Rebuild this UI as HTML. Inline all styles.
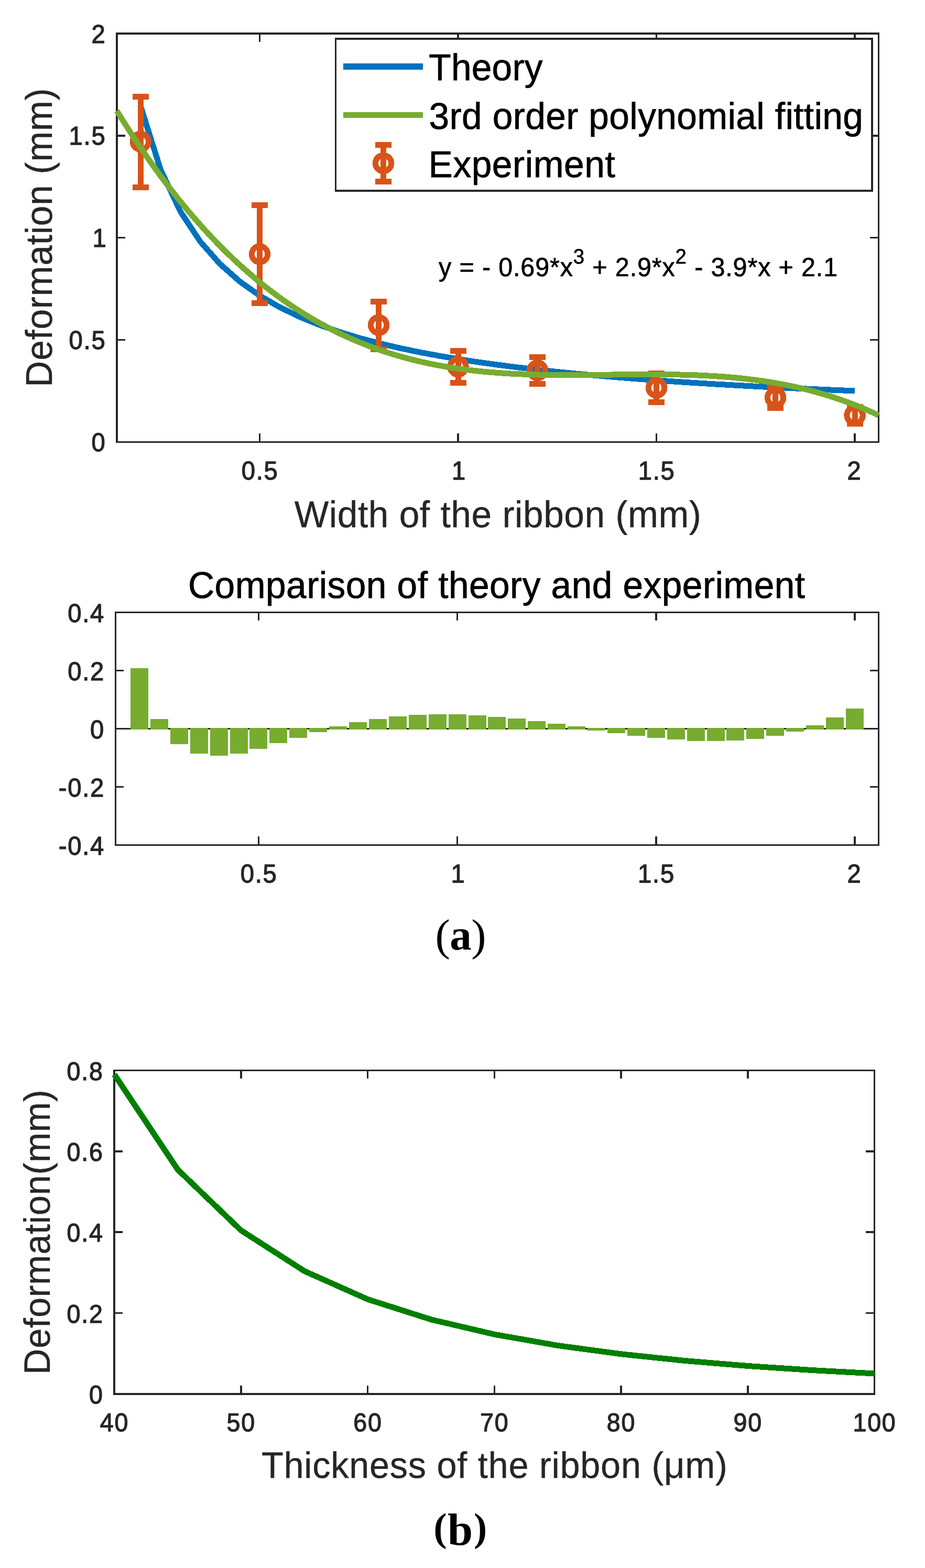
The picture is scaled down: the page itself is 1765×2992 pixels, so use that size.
<!DOCTYPE html>
<html lang="en"><head><meta charset="utf-8"><title>Deformation of the ribbon: theory and experiment</title>
<style>
html,body{margin:0;padding:0;background:#fff;}
body{width:1765px;height:2992px;overflow:hidden;position:relative;}
svg{position:absolute;left:0;top:0;display:block;}
text{white-space:pre;}
</style></head>
<body>
<svg width="1765" height="2992" viewBox="0 0 1765 2992" text-rendering="geometricPrecision">
<rect x="0" y="0" width="1765" height="2992" fill="#ffffff"/>
<rect x="494" y="827" width="3" height="15" fill="#262626"/>
<rect x="494" y="66" width="3" height="14" fill="#262626"/>
<rect x="872" y="827" width="4" height="15" fill="#262626"/>
<rect x="872" y="66" width="4" height="14" fill="#262626"/>
<rect x="1251" y="827" width="3" height="15" fill="#262626"/>
<rect x="1251" y="66" width="3" height="14" fill="#262626"/>
<rect x="1629" y="827" width="4" height="15" fill="#262626"/>
<rect x="1629" y="66" width="4" height="14" fill="#262626"/>
<rect x="225" y="647" width="14" height="3" fill="#262626"/>
<rect x="1660" y="647" width="15" height="3" fill="#262626"/>
<rect x="225" y="452" width="14" height="3" fill="#262626"/>
<rect x="1660" y="452" width="15" height="3" fill="#262626"/>
<rect x="225" y="257" width="14" height="4" fill="#262626"/>
<rect x="1660" y="257" width="15" height="4" fill="#262626"/>
<rect x="221" y="62" width="4" height="783" fill="#262626"/>
<rect x="1675" y="62" width="3" height="783" fill="#262626"/>
<rect x="221" y="62" width="1457" height="4" fill="#262626"/>
<rect x="221" y="842" width="1457" height="3" fill="#262626"/>
<polyline points="268.42,202.95 306.27,323.23 344.12,403.45 381.98,460.79 419.83,503.81 457.68,537.30 495.53,564.10 533.38,586.05 571.23,604.36 609.09,619.86 646.94,633.15 684.79,644.68 722.64,654.78 760.49,663.70 798.34,671.63 836.20,678.73 874.05,685.12 911.90,690.91 949.75,696.18 987.60,700.98 1025.45,705.39 1063.30,709.45 1101.16,713.20 1139.01,716.67 1176.86,719.89 1214.71,722.89 1252.56,725.69 1290.41,728.31 1328.27,730.76 1366.12,733.06 1403.97,735.22 1441.82,737.26 1479.67,739.18 1517.52,741.00 1555.38,742.72 1593.23,744.34 1631.08,745.89" fill="none" stroke="#0072BD" stroke-width="11" stroke-linejoin="round" stroke-linecap="butt" shape-rendering="crispEdges"/>
<line x1="268.42" y1="184.04" x2="268.42" y2="357.87" stroke="#D95319" stroke-width="11" stroke-linecap="butt" shape-rendering="crispEdges"/>
<line x1="252.92" y1="184.04" x2="283.92" y2="184.04" stroke="#D95319" stroke-width="11" stroke-linecap="butt" shape-rendering="crispEdges"/>
<line x1="252.92" y1="357.87" x2="283.92" y2="357.87" stroke="#D95319" stroke-width="11" stroke-linecap="butt" shape-rendering="crispEdges"/>
<circle cx="268.42" cy="270.18" r="15.25" fill="none" stroke="#D95319" stroke-width="11" shape-rendering="crispEdges"/>
<line x1="495.53" y1="391.00" x2="495.53" y2="578.47" stroke="#D95319" stroke-width="11" stroke-linecap="butt" shape-rendering="crispEdges"/>
<line x1="480.03" y1="391.00" x2="511.03" y2="391.00" stroke="#D95319" stroke-width="11" stroke-linecap="butt" shape-rendering="crispEdges"/>
<line x1="480.03" y1="578.47" x2="511.03" y2="578.47" stroke="#D95319" stroke-width="11" stroke-linecap="butt" shape-rendering="crispEdges"/>
<circle cx="495.53" cy="484.93" r="15.25" fill="none" stroke="#D95319" stroke-width="11" shape-rendering="crispEdges"/>
<line x1="722.64" y1="575.12" x2="722.64" y2="666.94" stroke="#D95319" stroke-width="11" stroke-linecap="butt" shape-rendering="crispEdges"/>
<line x1="707.14" y1="575.12" x2="738.14" y2="575.12" stroke="#D95319" stroke-width="11" stroke-linecap="butt" shape-rendering="crispEdges"/>
<line x1="707.14" y1="666.94" x2="738.14" y2="666.94" stroke="#D95319" stroke-width="11" stroke-linecap="butt" shape-rendering="crispEdges"/>
<circle cx="722.64" cy="620.33" r="15.25" fill="none" stroke="#D95319" stroke-width="11" shape-rendering="crispEdges"/>
<line x1="874.05" y1="669.09" x2="874.05" y2="730.08" stroke="#D95319" stroke-width="11" stroke-linecap="butt" shape-rendering="crispEdges"/>
<line x1="858.55" y1="669.09" x2="889.55" y2="669.09" stroke="#D95319" stroke-width="11" stroke-linecap="butt" shape-rendering="crispEdges"/>
<line x1="858.55" y1="730.08" x2="889.55" y2="730.08" stroke="#D95319" stroke-width="11" stroke-linecap="butt" shape-rendering="crispEdges"/>
<circle cx="874.05" cy="699.68" r="15.25" fill="none" stroke="#D95319" stroke-width="11" shape-rendering="crispEdges"/>
<line x1="1025.45" y1="681.83" x2="1025.45" y2="732.03" stroke="#D95319" stroke-width="11" stroke-linecap="butt" shape-rendering="crispEdges"/>
<line x1="1009.95" y1="681.83" x2="1040.95" y2="681.83" stroke="#D95319" stroke-width="11" stroke-linecap="butt" shape-rendering="crispEdges"/>
<line x1="1009.95" y1="732.03" x2="1040.95" y2="732.03" stroke="#D95319" stroke-width="11" stroke-linecap="butt" shape-rendering="crispEdges"/>
<circle cx="1025.45" cy="706.70" r="15.25" fill="none" stroke="#D95319" stroke-width="11" shape-rendering="crispEdges"/>
<line x1="1252.56" y1="712.93" x2="1252.56" y2="767.11" stroke="#D95319" stroke-width="11" stroke-linecap="butt" shape-rendering="crispEdges"/>
<line x1="1237.06" y1="712.93" x2="1268.06" y2="712.93" stroke="#D95319" stroke-width="11" stroke-linecap="butt" shape-rendering="crispEdges"/>
<line x1="1237.06" y1="767.11" x2="1268.06" y2="767.11" stroke="#D95319" stroke-width="11" stroke-linecap="butt" shape-rendering="crispEdges"/>
<circle cx="1252.56" cy="739.83" r="15.25" fill="none" stroke="#D95319" stroke-width="11" shape-rendering="crispEdges"/>
<line x1="1479.67" y1="739.05" x2="1479.67" y2="778.02" stroke="#D95319" stroke-width="11" stroke-linecap="butt" shape-rendering="crispEdges"/>
<line x1="1464.17" y1="739.05" x2="1495.17" y2="739.05" stroke="#D95319" stroke-width="11" stroke-linecap="butt" shape-rendering="crispEdges"/>
<line x1="1464.17" y1="778.02" x2="1495.17" y2="778.02" stroke="#D95319" stroke-width="11" stroke-linecap="butt" shape-rendering="crispEdges"/>
<circle cx="1479.67" cy="758.53" r="15.25" fill="none" stroke="#D95319" stroke-width="11" shape-rendering="crispEdges"/>
<line x1="1631.08" y1="776.07" x2="1631.08" y2="808.89" stroke="#D95319" stroke-width="11" stroke-linecap="butt" shape-rendering="crispEdges"/>
<line x1="1615.58" y1="776.07" x2="1646.58" y2="776.07" stroke="#D95319" stroke-width="11" stroke-linecap="butt" shape-rendering="crispEdges"/>
<line x1="1615.58" y1="808.89" x2="1646.58" y2="808.89" stroke="#D95319" stroke-width="11" stroke-linecap="butt" shape-rendering="crispEdges"/>
<circle cx="1631.08" cy="792.44" r="15.25" fill="none" stroke="#D95319" stroke-width="11" shape-rendering="crispEdges"/>
<polyline points="223.00,211.56 230.30,223.36 237.61,234.98 244.91,246.41 252.22,257.66 259.52,268.73 266.82,279.63 274.13,290.34 281.43,300.88 288.74,311.25 296.04,321.44 303.34,331.46 310.65,341.31 317.95,350.99 325.26,360.50 332.56,369.85 339.86,379.04 347.17,388.06 354.47,396.92 361.78,405.62 369.08,414.16 376.38,422.54 383.69,430.77 390.99,438.85 398.30,446.77 405.60,454.54 412.90,462.16 420.21,469.63 427.51,476.96 434.82,484.14 442.12,491.17 449.42,498.06 456.73,504.81 464.03,511.43 471.34,517.90 478.64,524.24 485.94,530.44 493.25,536.50 500.55,542.44 507.86,548.24 515.16,553.92 522.46,559.46 529.77,564.88 537.07,570.17 544.38,575.34 551.68,580.39 558.98,585.32 566.29,590.12 573.59,594.81 580.90,599.38 588.20,603.84 595.51,608.18 602.81,612.42 610.11,616.53 617.42,620.55 624.72,624.45 632.03,628.24 639.33,631.93 646.63,635.52 653.94,639.01 661.24,642.39 668.55,645.67 675.85,648.86 683.15,651.95 690.46,654.95 697.76,657.85 705.07,660.66 712.37,663.38 719.67,666.01 726.98,668.55 734.28,671.00 741.59,673.37 748.89,675.66 756.19,677.87 763.50,679.99 770.80,682.04 778.11,684.00 785.41,685.89 792.71,687.71 800.02,689.45 807.32,691.13 814.63,692.73 821.93,694.26 829.23,695.72 836.54,697.12 843.84,698.46 851.15,699.73 858.45,700.93 865.75,702.08 873.06,703.17 880.36,704.20 887.67,705.18 894.97,706.10 902.27,706.97 909.58,707.79 916.88,708.55 924.19,709.27 931.49,709.94 938.79,710.56 946.10,711.14 953.40,711.68 960.71,712.18 968.01,712.63 975.31,713.05 982.62,713.43 989.92,713.77 997.23,714.08 1004.53,714.35 1011.83,714.60 1019.14,714.81 1026.44,715.00 1033.75,715.16 1041.05,715.29 1048.35,715.40 1055.66,715.48 1062.96,715.55 1070.27,715.59 1077.57,715.62 1084.87,715.63 1092.18,715.62 1099.48,715.60 1106.79,715.57 1114.09,715.52 1121.39,715.47 1128.70,715.41 1136.00,715.34 1143.31,715.26 1150.61,715.18 1157.91,715.10 1165.22,715.02 1172.52,714.94 1179.83,714.85 1187.13,714.78 1194.43,714.70 1201.74,714.64 1209.04,714.58 1216.35,714.53 1223.65,714.49 1230.95,714.46 1238.26,714.44 1245.56,714.44 1252.87,714.46 1260.17,714.49 1267.47,714.54 1274.78,714.62 1282.08,714.71 1289.39,714.83 1296.69,714.97 1303.99,715.14 1311.30,715.34 1318.60,715.57 1325.91,715.82 1333.21,716.11 1340.52,716.44 1347.82,716.79 1355.12,717.19 1362.43,717.62 1369.73,718.09 1377.04,718.60 1384.34,719.16 1391.64,719.75 1398.95,720.40 1406.25,721.08 1413.56,721.82 1420.86,722.61 1428.16,723.45 1435.47,724.34 1442.77,725.28 1450.08,726.28 1457.38,727.33 1464.68,728.44 1471.99,729.62 1479.29,730.85 1486.60,732.15 1493.90,733.51 1501.20,734.93 1508.51,736.42 1515.81,737.98 1523.12,739.61 1530.42,741.31 1537.72,743.09 1545.03,744.93 1552.33,746.85 1559.64,748.85 1566.94,750.93 1574.24,753.09 1581.55,755.33 1588.85,757.65 1596.16,760.05 1603.46,762.54 1610.76,765.12 1618.07,767.79 1625.37,770.54 1632.68,773.39 1639.98,776.33 1647.28,779.36 1654.59,782.49 1661.89,785.72 1669.20,789.04 1676.50,792.46" fill="none" stroke="#77AC30" stroke-width="11" stroke-linejoin="round" stroke-linecap="butt" shape-rendering="crispEdges"/>
<text transform="translate(200.60,861.10) scale(0.95,1)" x="1.90" y="0" font-family='"Liberation Sans", Arial, Helvetica, sans-serif' font-size="49.6" fill="#262626" stroke="#262626" stroke-width="1.3" text-anchor="end" letter-spacing="1.9">0</text>
<text transform="translate(200.60,666.23) scale(0.95,1)" x="1.90" y="0" font-family='"Liberation Sans", Arial, Helvetica, sans-serif' font-size="49.6" fill="#262626" stroke="#262626" stroke-width="1.3" text-anchor="end" letter-spacing="1.9">0.5</text>
<text transform="translate(202.60,471.35) scale(0.95,1)" x="1.90" y="0" font-family='"Liberation Sans", Arial, Helvetica, sans-serif' font-size="49.6" fill="#262626" stroke="#262626" stroke-width="1.3" text-anchor="end" letter-spacing="1.9">1</text>
<text transform="translate(200.60,276.48) scale(0.95,1)" x="1.90" y="0" font-family='"Liberation Sans", Arial, Helvetica, sans-serif' font-size="49.6" fill="#262626" stroke="#262626" stroke-width="1.3" text-anchor="end" letter-spacing="1.9">1.5</text>
<text transform="translate(200.60,81.60) scale(0.95,1)" x="1.90" y="0" font-family='"Liberation Sans", Arial, Helvetica, sans-serif' font-size="49.6" fill="#262626" stroke="#262626" stroke-width="1.3" text-anchor="end" letter-spacing="1.9">2</text>
<text transform="translate(495.23,914.80) scale(0.95,1)" x="0.95" y="0" font-family='"Liberation Sans", Arial, Helvetica, sans-serif' font-size="49.6" fill="#262626" stroke="#262626" stroke-width="1.3" text-anchor="middle" letter-spacing="1.9">0.5</text>
<text transform="translate(875.05,914.80) scale(0.95,1)" x="0.95" y="0" font-family='"Liberation Sans", Arial, Helvetica, sans-serif' font-size="49.6" fill="#262626" stroke="#262626" stroke-width="1.3" text-anchor="middle" letter-spacing="1.9">1</text>
<text transform="translate(1252.26,914.80) scale(0.95,1)" x="0.95" y="0" font-family='"Liberation Sans", Arial, Helvetica, sans-serif' font-size="49.6" fill="#262626" stroke="#262626" stroke-width="1.3" text-anchor="middle" letter-spacing="1.9">1.5</text>
<text transform="translate(1629.58,914.80) scale(0.95,1)" x="0.95" y="0" font-family='"Liberation Sans", Arial, Helvetica, sans-serif' font-size="49.6" fill="#262626" stroke="#262626" stroke-width="1.3" text-anchor="middle" letter-spacing="1.9">2</text>
<text transform="translate(561.75,1005.50) scale(0.976,1)" x="0" y="0" font-family='"Liberation Sans", Arial, Helvetica, sans-serif' font-size="71.2" fill="#262626" letter-spacing="0.522" stroke="#262626" stroke-width="0.4" xml:space="preserve">Width of the ribbon (mm)</text>
<text transform="translate(99.25,738.75) rotate(-90) scale(0.976,1)" x="0" y="0" font-family='"Liberation Sans", Arial, Helvetica, sans-serif' font-size="71.2" fill="#262626" letter-spacing="0.733" stroke="#262626" stroke-width="0.4" xml:space="preserve">Deformation (mm)</text>
<rect x="639" y="72" width="1027" height="294" fill="#ffffff"/>
<rect x="639" y="72" width="3" height="294" fill="#262626"/>
<rect x="1662" y="72" width="4" height="294" fill="#262626"/>
<rect x="639" y="72" width="1027" height="4" fill="#262626"/>
<rect x="639" y="362" width="1027" height="4" fill="#262626"/>
<line x1="655.00" y1="127.00" x2="807.00" y2="127.00" stroke="#0072BD" stroke-width="11.5" stroke-linecap="butt" shape-rendering="crispEdges"/>
<line x1="655.00" y1="219.50" x2="807.00" y2="219.50" stroke="#77AC30" stroke-width="11" stroke-linecap="butt" shape-rendering="crispEdges"/>
<line x1="731.50" y1="276.60" x2="731.50" y2="346.60" stroke="#D95319" stroke-width="11" stroke-linecap="butt" shape-rendering="crispEdges"/>
<line x1="716.00" y1="276.60" x2="747.00" y2="276.60" stroke="#D95319" stroke-width="11" stroke-linecap="butt" shape-rendering="crispEdges"/>
<line x1="716.00" y1="346.60" x2="747.00" y2="346.60" stroke="#D95319" stroke-width="11" stroke-linecap="butt" shape-rendering="crispEdges"/>
<circle cx="731.50" cy="311.40" r="15.25" fill="none" stroke="#D95319" stroke-width="11" shape-rendering="crispEdges"/>
<text transform="translate(818.25,153.00) scale(0.976,1)" x="0" y="0" font-family='"Liberation Sans", Arial, Helvetica, sans-serif' font-size="71.2" fill="#000" letter-spacing="0.200" stroke="#000" stroke-width="0.8" xml:space="preserve">Theory</text>
<text transform="translate(818.50,245.80) scale(0.976,1)" x="0" y="0" font-family='"Liberation Sans", Arial, Helvetica, sans-serif' font-size="71.2" fill="#000" letter-spacing="0.370" stroke="#000" stroke-width="0.8" xml:space="preserve">3rd order polynomial fitting</text>
<text transform="translate(817.50,338.25) scale(0.976,1)" x="0" y="0" font-family='"Liberation Sans", Arial, Helvetica, sans-serif' font-size="71.2" fill="#000" letter-spacing="0.556" stroke="#000" stroke-width="0.8" xml:space="preserve">Experiment</text>
<text transform="translate(837.00,527.00) scale(0.96,1)" x="0" y="0" font-family='"Liberation Sans", Arial, Helvetica, sans-serif' font-size="50.5" fill="#000" letter-spacing="0.889" stroke="#000" stroke-width="0.7" xml:space="preserve">y = - 0.69*x<tspan dy="-24.5" font-size="40">3</tspan><tspan dy="24.5"> + 2.9*x</tspan><tspan dy="-24.5" font-size="40">2</tspan><tspan dy="24.5"> - 3.9*x + 2.1</tspan></text>
<rect x="492" y="1596" width="3" height="15" fill="#262626"/>
<rect x="492" y="1170" width="3" height="14" fill="#262626"/>
<rect x="871" y="1596" width="3" height="15" fill="#262626"/>
<rect x="871" y="1170" width="3" height="14" fill="#262626"/>
<rect x="1250" y="1596" width="4" height="15" fill="#262626"/>
<rect x="1250" y="1170" width="4" height="14" fill="#262626"/>
<rect x="1629" y="1596" width="4" height="15" fill="#262626"/>
<rect x="1629" y="1170" width="4" height="14" fill="#262626"/>
<rect x="222" y="1500" width="14" height="3" fill="#262626"/>
<rect x="1660" y="1500" width="15" height="3" fill="#262626"/>
<rect x="222" y="1278" width="14" height="3" fill="#262626"/>
<rect x="1660" y="1278" width="15" height="3" fill="#262626"/>
<rect x="219" y="1167" width="3" height="447" fill="#262626"/>
<rect x="1675" y="1167" width="3" height="447" fill="#262626"/>
<rect x="219" y="1167" width="1459" height="3" fill="#262626"/>
<rect x="219" y="1611" width="1459" height="3" fill="#262626"/>
<rect x="222" y="1389" width="1453" height="3" fill="#262626"/>
<rect x="249" y="1275" width="34" height="117" fill="#77AC30"/>
<rect x="287" y="1372" width="34" height="20" fill="#77AC30"/>
<rect x="325" y="1389" width="34" height="31" fill="#77AC30"/>
<rect x="363" y="1389" width="34" height="49" fill="#77AC30"/>
<rect x="401" y="1389" width="34" height="53" fill="#77AC30"/>
<rect x="439" y="1389" width="34" height="49" fill="#77AC30"/>
<rect x="476" y="1389" width="34" height="40" fill="#77AC30"/>
<rect x="514" y="1389" width="34" height="29" fill="#77AC30"/>
<rect x="552" y="1389" width="34" height="19" fill="#77AC30"/>
<rect x="590" y="1389" width="34" height="8" fill="#77AC30"/>
<rect x="628" y="1386" width="34" height="6" fill="#77AC30"/>
<rect x="666" y="1378" width="34" height="14" fill="#77AC30"/>
<rect x="704" y="1372" width="34" height="20" fill="#77AC30"/>
<rect x="742" y="1367" width="34" height="25" fill="#77AC30"/>
<rect x="780" y="1364" width="34" height="28" fill="#77AC30"/>
<rect x="818" y="1363" width="34" height="29" fill="#77AC30"/>
<rect x="856" y="1363" width="34" height="29" fill="#77AC30"/>
<rect x="894" y="1365" width="34" height="27" fill="#77AC30"/>
<rect x="931" y="1368" width="34" height="24" fill="#77AC30"/>
<rect x="969" y="1371" width="34" height="21" fill="#77AC30"/>
<rect x="1007" y="1376" width="34" height="16" fill="#77AC30"/>
<rect x="1045" y="1381" width="34" height="11" fill="#77AC30"/>
<rect x="1083" y="1386" width="34" height="6" fill="#77AC30"/>
<rect x="1121" y="1389" width="34" height="5" fill="#77AC30"/>
<rect x="1159" y="1389" width="34" height="10" fill="#77AC30"/>
<rect x="1197" y="1389" width="34" height="15" fill="#77AC30"/>
<rect x="1235" y="1389" width="34" height="19" fill="#77AC30"/>
<rect x="1273" y="1389" width="34" height="22" fill="#77AC30"/>
<rect x="1311" y="1389" width="34" height="25" fill="#77AC30"/>
<rect x="1349" y="1389" width="34" height="25" fill="#77AC30"/>
<rect x="1386" y="1389" width="34" height="24" fill="#77AC30"/>
<rect x="1424" y="1389" width="34" height="21" fill="#77AC30"/>
<rect x="1462" y="1389" width="34" height="15" fill="#77AC30"/>
<rect x="1500" y="1389" width="34" height="7" fill="#77AC30"/>
<rect x="1538" y="1384" width="34" height="8" fill="#77AC30"/>
<rect x="1576" y="1369" width="34" height="23" fill="#77AC30"/>
<rect x="1614" y="1352" width="34" height="40" fill="#77AC30"/>
<text transform="translate(198.30,1186.50) scale(0.95,1)" x="1.90" y="0" font-family='"Liberation Sans", Arial, Helvetica, sans-serif' font-size="49.6" fill="#262626" stroke="#262626" stroke-width="1.3" text-anchor="end" letter-spacing="1.9">0.4</text>
<text transform="translate(198.30,1297.50) scale(0.95,1)" x="1.90" y="0" font-family='"Liberation Sans", Arial, Helvetica, sans-serif' font-size="49.6" fill="#262626" stroke="#262626" stroke-width="1.3" text-anchor="end" letter-spacing="1.9">0.2</text>
<text transform="translate(198.30,1408.50) scale(0.95,1)" x="1.90" y="0" font-family='"Liberation Sans", Arial, Helvetica, sans-serif' font-size="49.6" fill="#262626" stroke="#262626" stroke-width="1.3" text-anchor="end" letter-spacing="1.9">0</text>
<text transform="translate(198.30,1519.50) scale(0.95,1)" x="1.90" y="0" font-family='"Liberation Sans", Arial, Helvetica, sans-serif' font-size="49.6" fill="#262626" stroke="#262626" stroke-width="1.3" text-anchor="end" letter-spacing="1.9">-0.2</text>
<text transform="translate(198.30,1630.50) scale(0.95,1)" x="1.90" y="0" font-family='"Liberation Sans", Arial, Helvetica, sans-serif' font-size="49.6" fill="#262626" stroke="#262626" stroke-width="1.3" text-anchor="end" letter-spacing="1.9">-0.4</text>
<text transform="translate(493.20,1683.70) scale(0.95,1)" x="0.95" y="0" font-family='"Liberation Sans", Arial, Helvetica, sans-serif' font-size="49.6" fill="#262626" stroke="#262626" stroke-width="1.3" text-anchor="middle" letter-spacing="1.9">0.5</text>
<text transform="translate(873.67,1683.70) scale(0.95,1)" x="0.95" y="0" font-family='"Liberation Sans", Arial, Helvetica, sans-serif' font-size="49.6" fill="#262626" stroke="#262626" stroke-width="1.3" text-anchor="middle" letter-spacing="1.9">1</text>
<text transform="translate(1251.53,1683.70) scale(0.95,1)" x="0.95" y="0" font-family='"Liberation Sans", Arial, Helvetica, sans-serif' font-size="49.6" fill="#262626" stroke="#262626" stroke-width="1.3" text-anchor="middle" letter-spacing="1.9">1.5</text>
<text transform="translate(1629.50,1683.70) scale(0.95,1)" x="0.95" y="0" font-family='"Liberation Sans", Arial, Helvetica, sans-serif' font-size="49.6" fill="#262626" stroke="#262626" stroke-width="1.3" text-anchor="middle" letter-spacing="1.9">2</text>
<text transform="translate(359.00,1140.75) scale(0.976,1)" x="0" y="0" font-family='"Liberation Sans", Arial, Helvetica, sans-serif' font-size="71.2" fill="#000" letter-spacing="0.441" stroke="#000" stroke-width="0.8" xml:space="preserve">Comparison of theory and experiment</text>
<text x="844.75" y="1812.50" font-family='"Liberation Serif", "Times New Roman", serif' font-size="83" fill="#000" text-anchor="middle" font-weight="bold"><tspan x="844.75" font-weight="normal" font-size="85">(</tspan><tspan x="879.0" y="1811.5" font-size="83">a</tspan><tspan x="913.4" y="1812.5" font-weight="normal" font-size="85">)</tspan></text>
<rect x="458" y="2644" width="4" height="14" fill="#262626"/>
<rect x="458" y="2044" width="4" height="14" fill="#262626"/>
<rect x="700" y="2644" width="3" height="14" fill="#262626"/>
<rect x="700" y="2044" width="3" height="14" fill="#262626"/>
<rect x="942" y="2644" width="3" height="14" fill="#262626"/>
<rect x="942" y="2044" width="3" height="14" fill="#262626"/>
<rect x="1183" y="2644" width="4" height="14" fill="#262626"/>
<rect x="1183" y="2044" width="4" height="14" fill="#262626"/>
<rect x="1425" y="2644" width="4" height="14" fill="#262626"/>
<rect x="1425" y="2044" width="4" height="14" fill="#262626"/>
<rect x="220" y="2504" width="14" height="3" fill="#262626"/>
<rect x="1652" y="2504" width="15" height="3" fill="#262626"/>
<rect x="220" y="2349" width="14" height="4" fill="#262626"/>
<rect x="1652" y="2349" width="15" height="4" fill="#262626"/>
<rect x="220" y="2195" width="14" height="4" fill="#262626"/>
<rect x="1652" y="2195" width="15" height="4" fill="#262626"/>
<rect x="216" y="2041" width="4" height="621" fill="#262626"/>
<rect x="1667" y="2041" width="3" height="621" fill="#262626"/>
<rect x="216" y="2041" width="1454" height="3" fill="#262626"/>
<rect x="216" y="2658" width="1454" height="4" fill="#262626"/>
<polyline points="218.20,2050.22 339.07,2231.73 459.95,2347.79 580.83,2425.43 701.70,2479.32 822.58,2517.89 943.45,2546.22 1064.33,2567.49 1185.20,2583.78 1306.08,2596.45 1426.95,2606.47 1547.83,2614.48 1668.70,2620.97" fill="none" stroke="#007F00" stroke-width="11" stroke-linejoin="round" stroke-linecap="butt" shape-rendering="crispEdges"/>
<text transform="translate(195.80,2678.10) scale(0.95,1)" x="1.90" y="0" font-family='"Liberation Sans", Arial, Helvetica, sans-serif' font-size="49.0" fill="#262626" stroke="#262626" stroke-width="1.3" text-anchor="end" letter-spacing="1.9">0</text>
<text transform="translate(195.80,2523.72) scale(0.95,1)" x="1.90" y="0" font-family='"Liberation Sans", Arial, Helvetica, sans-serif' font-size="49.0" fill="#262626" stroke="#262626" stroke-width="1.3" text-anchor="end" letter-spacing="1.9">0.2</text>
<text transform="translate(195.80,2369.35) scale(0.95,1)" x="1.90" y="0" font-family='"Liberation Sans", Arial, Helvetica, sans-serif' font-size="49.0" fill="#262626" stroke="#262626" stroke-width="1.3" text-anchor="end" letter-spacing="1.9">0.4</text>
<text transform="translate(195.80,2214.97) scale(0.95,1)" x="1.90" y="0" font-family='"Liberation Sans", Arial, Helvetica, sans-serif' font-size="49.0" fill="#262626" stroke="#262626" stroke-width="1.3" text-anchor="end" letter-spacing="1.9">0.6</text>
<text transform="translate(195.80,2060.60) scale(0.95,1)" x="1.90" y="0" font-family='"Liberation Sans", Arial, Helvetica, sans-serif' font-size="49.0" fill="#262626" stroke="#262626" stroke-width="1.3" text-anchor="end" letter-spacing="1.9">0.8</text>
<text transform="translate(217.60,2730.60) scale(0.95,1)" x="0.95" y="0" font-family='"Liberation Sans", Arial, Helvetica, sans-serif' font-size="49.0" fill="#262626" stroke="#262626" stroke-width="1.3" text-anchor="middle" letter-spacing="1.9">40</text>
<text transform="translate(459.35,2730.60) scale(0.95,1)" x="0.95" y="0" font-family='"Liberation Sans", Arial, Helvetica, sans-serif' font-size="49.0" fill="#262626" stroke="#262626" stroke-width="1.3" text-anchor="middle" letter-spacing="1.9">50</text>
<text transform="translate(701.10,2730.60) scale(0.95,1)" x="0.95" y="0" font-family='"Liberation Sans", Arial, Helvetica, sans-serif' font-size="49.0" fill="#262626" stroke="#262626" stroke-width="1.3" text-anchor="middle" letter-spacing="1.9">60</text>
<text transform="translate(942.85,2730.60) scale(0.95,1)" x="0.95" y="0" font-family='"Liberation Sans", Arial, Helvetica, sans-serif' font-size="49.0" fill="#262626" stroke="#262626" stroke-width="1.3" text-anchor="middle" letter-spacing="1.9">70</text>
<text transform="translate(1184.60,2730.60) scale(0.95,1)" x="0.95" y="0" font-family='"Liberation Sans", Arial, Helvetica, sans-serif' font-size="49.0" fill="#262626" stroke="#262626" stroke-width="1.3" text-anchor="middle" letter-spacing="1.9">80</text>
<text transform="translate(1426.35,2730.60) scale(0.95,1)" x="0.95" y="0" font-family='"Liberation Sans", Arial, Helvetica, sans-serif' font-size="49.0" fill="#262626" stroke="#262626" stroke-width="1.3" text-anchor="middle" letter-spacing="1.9">90</text>
<text transform="translate(1668.10,2730.60) scale(0.95,1)" x="0.95" y="0" font-family='"Liberation Sans", Arial, Helvetica, sans-serif' font-size="49.0" fill="#262626" stroke="#262626" stroke-width="1.3" text-anchor="middle" letter-spacing="1.9">100</text>
<text transform="translate(499.00,2819.50) scale(0.976,1)" x="0" y="0" font-family='"Liberation Sans", Arial, Helvetica, sans-serif' font-size="70.18" fill="#262626" letter-spacing="0.741" stroke="#262626" stroke-width="0.4" xml:space="preserve">Thickness of the ribbon (μm)</text>
<text transform="translate(94.50,2623.00) rotate(-90) scale(0.976,1)" x="0" y="0" font-family='"Liberation Sans", Arial, Helvetica, sans-serif' font-size="70.18" fill="#262626" letter-spacing="0.786" stroke="#262626" stroke-width="0.4" xml:space="preserve">Deformation(mm)</text>
<text x="840.00" y="2948.75" font-family='"Liberation Serif", "Times New Roman", serif' font-size="88" fill="#000" text-anchor="middle" font-weight="bold"><tspan x="840" y="2939.9" font-size="76">(</tspan><tspan x="878.0" y="2948.1" font-size="86.5">b</tspan><tspan x="916.6" y="2939.9" font-size="76">)</tspan></text>
</svg>
</body></html>
